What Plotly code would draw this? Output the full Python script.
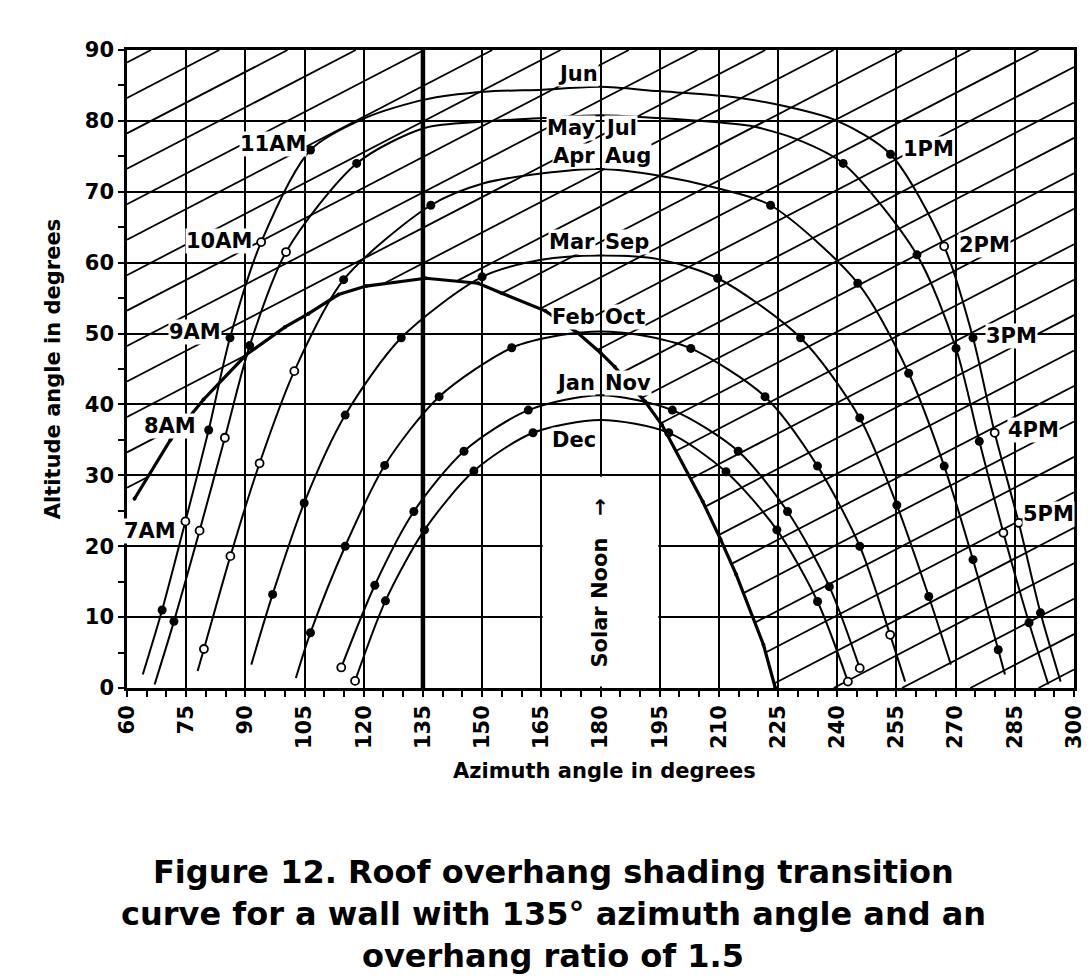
import numpy as np
import plotly.graph_objects as go

# ---------------- axis ticks ----------------
x_ticks = list(range(60, 301, 15))
y_ticks = list(range(0, 91, 10))

# ---------------- hourly sun positions (azimuth, altitude) ----------------
# June
jun_dot_az = [68.9, 74.8, 80.7, 86.1, 94.0, 106.5, 253.5, 267.1, 274.4, 279.9, 286.0, 291.5]
jun_dot_alt = [11.0, 23.5, 36.4, 49.4, 62.9, 75.9, 75.3, 62.3, 49.4, 36.0, 23.3, 10.6]
jun_dot_open = [0, 1, 0, 0, 1, 0, 0, 1, 0, 1, 1, 0]
jun_path_az = [64.0, 120.3, 135.4, 150.4, 165.4, 180.0, 194.6, 211.3, 224.8, 240.0, 296.6]
jun_path_alt = [1.9, 80.4, 83.0, 84.1, 84.4, 84.8, 84.2, 83.5, 82.3, 80.0, 0.9]

# May / July
mj_dot_az = [71.9, 78.4, 84.8, 91.1, 100.3, 118.2, 241.5, 260.2, 270.1, 276.0, 282.1, 288.6]
mj_dot_alt = [9.4, 22.2, 35.3, 48.3, 61.5, 74.0, 74.0, 61.1, 47.9, 34.8, 21.9, 9.2]
mj_dot_open = [0, 1, 1, 0, 1, 0, 0, 0, 0, 0, 1, 0]
mj_path_az = [67.0, 135.4, 150.4, 165.4, 180.0, 194.6, 209.7, 218.0, 229.8, 293.5]
mj_path_alt = [0.5, 79.0, 79.9, 80.4, 80.8, 80.4, 79.8, 79.3, 77.4, 0.5]

# April / August
aa_dot_az = [79.5, 86.2, 93.6, 102.4, 114.9, 137.0, 223.1, 245.2, 258.1, 267.1, 274.4, 280.8]
aa_dot_alt = [5.5, 18.6, 31.7, 44.7, 57.6, 68.1, 68.1, 57.1, 44.4, 31.3, 18.1, 5.4]
aa_dot_open = [1, 1, 1, 1, 0, 0, 0, 0, 0, 0, 0, 0]
aa_path_az = [77.9, 150.4, 165.4, 180.0, 194.6, 209.7, 282.5]
aa_path_alt = [2.4, 71.2, 72.6, 73.2, 72.3, 70.5, 1.9]

# March / September
ms_dot_az = [96.9, 104.9, 115.3, 129.5, 150.0, 209.7, 230.7, 245.7, 255.1, 263.2]
ms_dot_alt = [13.2, 26.1, 38.5, 49.4, 58.0, 57.8, 49.4, 38.1, 25.8, 12.9]
ms_dot_open = [0, 0, 0, 0, 0, 0, 0, 0, 0, 0]
ms_path_az = [91.5, 165.0, 180.0, 194.6, 268.8]
ms_path_alt = [3.3, 60.4, 61.0, 60.5, 3.3]

# February / October
fo_dot_az = [106.5, 115.3, 125.3, 139.1, 157.5, 202.9, 221.7, 235.0, 245.7, 253.4]
fo_dot_alt = [7.8, 20.0, 31.4, 41.1, 48.0, 47.9, 41.1, 31.3, 20.0, 7.5]
fo_dot_open = [0, 0, 0, 0, 0, 0, 0, 0, 0, 1]
fo_path_az = [102.8, 170.0, 180.0, 190.0, 257.2]
fo_path_alt = [1.4, 49.8, 50.3, 49.8, 0.9]

# January / November
jn_dot_az = [114.3, 122.8, 132.7, 145.4, 161.7, 198.2, 214.9, 227.4, 238.0, 245.7]
jn_dot_alt = [2.9, 14.5, 24.9, 33.4, 39.2, 39.2, 33.4, 24.9, 14.3, 2.8]
jn_dot_open = [1, 0, 0, 0, 0, 0, 0, 0, 0, 1]
jn_path_az = [180.0]
jn_path_alt = [41.3]

# December
dec_dot_az = [117.8, 125.5, 135.4, 147.9, 162.9, 197.3, 211.8, 224.7, 235.0, 242.7]
dec_dot_alt = [1.0, 12.3, 22.3, 30.6, 36.0, 36.0, 30.5, 22.3, 12.2, 0.9]
dec_dot_open = [1, 0, 0, 0, 0, 0, 0, 0, 0, 1]
dec_path_az = [180.0]
dec_path_alt = [37.8]

# Roof overhang shading transition curve (wall azimuth 135, overhang ratio 1.5)
tr_az = [61.9, 71.0, 79.4, 90.2, 100.0, 106.0, 113.6, 120.6, 135.7, 149.0, 155.0, 166.0,
         174.2, 180.0, 183.6, 191.3, 195.6, 205.9, 210.4, 214.4, 221.3, 224.3]
tr_alt = [26.7, 35.0, 40.7, 47.0, 50.9, 52.8, 55.5, 56.7, 57.8, 57.1, 55.7, 53.2,
          50.1, 47.3, 45.3, 40.4, 37.1, 26.3, 21.0, 16.0, 6.1, 0.0]

WALL_AZIMUTH = 135

# month labels: (text, azimuth, altitude, anchor)
month_labels = [
    ("Jun", 179.6, 86.6, "right"),
    ("May", 178.9, 79.0, "right"), ("Jul", 181.0, 79.0, "left"),
    ("Apr", 178.9, 75.1, "right"), ("Aug", 181.0, 75.1, "left"),
    ("Mar", 178.9, 62.9, "right"), ("Sep", 181.0, 62.9, "left"),
    ("Feb", 178.9, 52.4, "right"), ("Oct", 181.0, 52.4, "left"),
    ("Jan", 178.9, 43.0, "right"), ("Nov", 181.0, 43.0, "left"),
    ("Dec", 179.2, 35.0, "right"),
]
hour_labels = [
    ("7AM", 72.7, 22.1, "right"), ("8AM", 77.7, 36.9, "right"), ("9AM", 84.2, 50.2, "right"),
    ("10AM", 91.9, 63.1, "right"), ("11AM", 105.7, 76.7, "right"),
    ("1PM", 256.4, 76.1, "left"), ("2PM", 270.5, 62.5, "left"), ("3PM", 277.4, 49.6, "left"),
    ("4PM", 282.9, 36.4, "left"), ("5PM", 286.8, 24.5, "left"),
]

# ---------------- styling constants ----------------
FONT = "DejaVu Sans"
HATCH_SLOPE = 0.289     # altitude degrees per azimuth degree
HATCH_STEP = 5.0        # vertical spacing of hatch lines, degrees
HATCH_ORIGIN = 256.4    # azimuth where one hatch line meets the horizon

fig = go.Figure()

# ---- hatching of the shaded region (above transition curve) ----
xs = np.linspace(60, 300, 9601)
floor = np.interp(xs, tr_az, tr_alt)
hx, hy = [], []
for k in range(-3, 33):
    ys = HATCH_SLOPE * (xs - HATCH_ORIGIN) + k * HATCH_STEP
    inside = (ys >= floor) & (ys >= 0) & (ys <= 90)
    if not inside.any():
        continue
    idx = np.flatnonzero(inside)
    br = np.flatnonzero(np.diff(idx) > 1)
    starts = np.r_[idx[0], idx[br + 1]]
    ends = np.r_[idx[br], idx[-1]]
    for s, e in zip(starts, ends):
        hx += [float(xs[s]), float(xs[e]), None]
        hy += [float(ys[s]), float(ys[e]), None]
fig.add_trace(go.Scatter(x=hx, y=hy, mode="lines", line=dict(color="black", width=1.8),
                         hoverinfo="skip"))

# ---- sun paths ----
months = [
    (jun_dot_az, jun_dot_alt, jun_dot_open, jun_path_az, jun_path_alt),
    (mj_dot_az, mj_dot_alt, mj_dot_open, mj_path_az, mj_path_alt),
    (aa_dot_az, aa_dot_alt, aa_dot_open, aa_path_az, aa_path_alt),
    (ms_dot_az, ms_dot_alt, ms_dot_open, ms_path_az, ms_path_alt),
    (fo_dot_az, fo_dot_alt, fo_dot_open, fo_path_az, fo_path_alt),
    (jn_dot_az, jn_dot_alt, jn_dot_open, jn_path_az, jn_path_alt),
    (dec_dot_az, dec_dot_alt, dec_dot_open, dec_path_az, dec_path_alt),
]
for daz, dalt, dopen, paz, palt in months:
    pts = sorted(list(zip(daz, dalt)) + list(zip(paz, palt)))
    fig.add_trace(go.Scatter(x=[p[0] for p in pts], y=[p[1] for p in pts], mode="lines",
                             line=dict(color="black", width=2.0, shape="spline", smoothing=0.8),
                             hoverinfo="skip"))

# ---- transition curve ----
fig.add_trace(go.Scatter(x=tr_az, y=tr_alt, mode="lines+markers",
                         line=dict(color="black", width=3.2),
                         marker=dict(color="black", size=4), hoverinfo="skip"))

# ---- hour dots ----
for daz, dalt, dopen, paz, palt in months:
    fx = [a for a, o in zip(daz, dopen) if not o]
    fy = [b for b, o in zip(dalt, dopen) if not o]
    ox = [a for a, o in zip(daz, dopen) if o]
    oy = [b for b, o in zip(dalt, dopen) if o]
    fig.add_trace(go.Scatter(x=fx, y=fy, mode="markers",
                             marker=dict(color="black", size=9, symbol="circle"), hoverinfo="skip"))
    fig.add_trace(go.Scatter(x=ox, y=oy, mode="markers",
                             marker=dict(color="white", size=8, symbol="circle",
                                         line=dict(color="black", width=1.8)), hoverinfo="skip"))

# ---- shapes: blank area around Solar Noon, wall azimuth line ----
fig.add_shape(type="rect", x0=165.35, x1=194.65, y0=0.2, y1=29.8, xref="x", yref="y",
              fillcolor="white", line=dict(width=0), layer="between")
fig.add_shape(type="line", x0=WALL_AZIMUTH, x1=WALL_AZIMUTH, y0=0, y1=90, xref="x", yref="y",
              line=dict(color="black", width=4.5), layer="between")

lab_font = dict(family=FONT, size=21, color="black", weight="bold")
for txt, ax_, ay_, anc in month_labels + hour_labels:
    fig.add_annotation(x=ax_, y=ay_, text=txt, showarrow=False, xanchor=anc, yanchor="middle",
                       font=lab_font, bgcolor="white", borderpad=0)

fig.add_annotation(x=180, y=14.8, text="Solar Noon   \u2192", textangle=-90, showarrow=False,
                   xanchor="center", yanchor="middle",
                   font=dict(family=FONT, size=21, color="black", weight="bold"))

# axis titles
fig.add_annotation(xref="paper", yref="paper", x=0.5037, y=-0.130, text="Azimuth angle in degrees",
                   showarrow=False, xanchor="center", yanchor="middle",
                   font=dict(family=FONT, size=21, color="black", weight="bold"))
fig.add_annotation(xref="paper", yref="paper", x=-0.078, y=0.50, text="Altitude angle in degrees",
                   textangle=-90, showarrow=False, xanchor="center", yanchor="middle",
                   font=dict(family=FONT, size=21, color="black", weight="bold"))

# caption
caption = ["Figure 12. Roof overhang shading transition",
           "curve for a wall with 135\u00b0 azimuth angle and an",
           "overhang ratio of 1.5"]
cap_y = [864, 906, 948]
for line, py in zip(caption, cap_y):
    fig.add_annotation(xref="paper", yref="paper", x=(545 - 119) / 947, y=(680 - py) / 638,
                       text=line, showarrow=False, xanchor="center", yanchor="middle",
                       font=dict(family=FONT, size=32, color="black", weight="bold"))

tick_font = dict(family=FONT, size=21, color="black", weight="bold")
fig.update_xaxes(range=[60, 300], tickvals=x_ticks, ticktext=[str(v) for v in x_ticks],
                 tickangle=-90, tickfont=tick_font,
                 showgrid=True, gridcolor="black", gridwidth=2, zeroline=False,
                 showline=True, linecolor="black", linewidth=2.5, mirror=True,
                 ticks="outside", ticklen=6, tickwidth=2, tickcolor="black",
                 minor=dict(dtick=5, tick0=60, ticks="outside", ticklen=6, tickwidth=1.5,
                            tickcolor="black", showgrid=False))
fig.update_yaxes(range=[0, 90], tickvals=y_ticks, ticktext=[str(v) for v in y_ticks],
                 tickfont=tick_font,
                 showgrid=True, gridcolor="black", gridwidth=2, zeroline=False,
                 showline=True, linecolor="black", linewidth=2.5, mirror=True,
                 ticks="outside", ticklen=6, tickwidth=2, tickcolor="black",
                 minor=dict(dtick=5, tick0=0, ticks="outside", ticklen=6, tickwidth=1.5,
                            tickcolor="black", showgrid=False))

fig.update_layout(width=1092, height=978, margin=dict(l=119, r=26, t=42, b=298),
                  plot_bgcolor="white", paper_bgcolor="white", showlegend=False)

fig.write_html("out.html")
